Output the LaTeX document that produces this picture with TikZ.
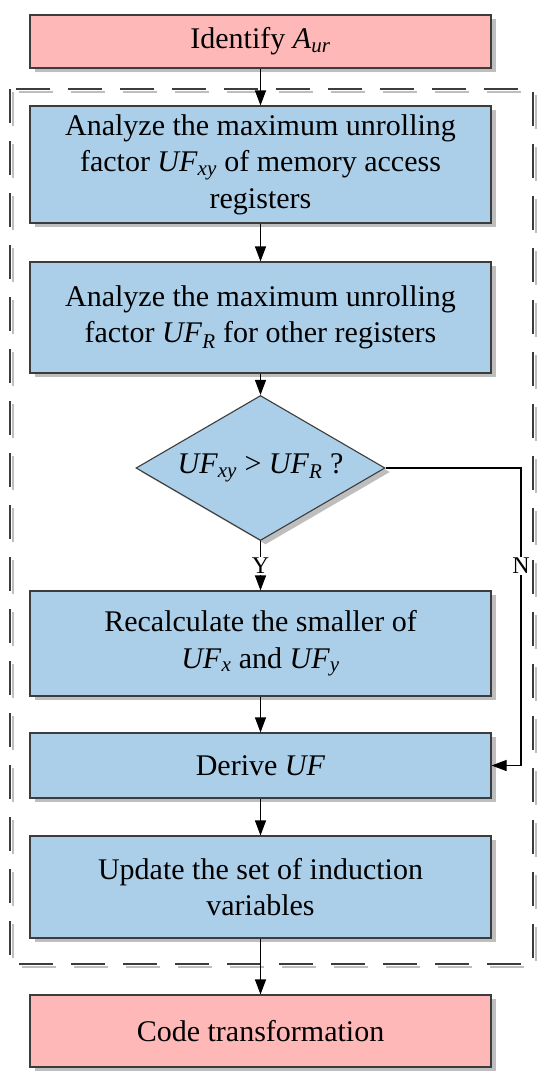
\documentclass[tikz,border=0pt]{standalone}
\usepackage{fontspec}
\setmainfont{Liberation Serif}
\usetikzlibrary{shapes.geometric,arrows.meta,shadows}
\definecolor{pinkfill}{RGB}{255,184,184}
\definecolor{bluefill}{RGB}{172,207,233}
\definecolor{edgegray}{RGB}{60,60,60}
\definecolor{shadowgray}{RGB}{190,190,190}
\newcommand\ufsub[1]{\textit{UF}\textsubscript{\textit{#1}}}
\begin{document}
\begin{tikzpicture}[x=1pt,y=-1pt,
  boxbase/.style={rectangle, draw=edgegray, line width=1.1pt, minimum width=461pt,
    inner sep=0pt, align=center, font=\fontsize{30}{36.5}\selectfont,
    drop shadow={shadow xshift=5pt, shadow yshift=-4pt, fill=shadowgray, opacity=1}},
  pinkbox/.style={boxbase, fill=pinkfill},
  bluebox/.style={boxbase, fill=bluefill},
  decision/.style={diamond, draw=edgegray, line width=1.1pt, fill=bluefill, inner sep=0pt,
    minimum width=249pt, minimum height=145pt, shape aspect=1.72,
    font=\fontsize{30}{36.5}\selectfont,
    drop shadow={shadow xshift=5pt, shadow yshift=-4pt, fill=shadowgray, opacity=1}},
  arr/.style={-{Triangle[length=15pt,width=11pt]}, line width=1.1pt, draw=black},
  lbl/.style={fill=white, inner sep=1pt, font=\fontsize{24}{28}\selectfont},
  frame/.style={draw=edgegray, line width=1.8pt, dash pattern=on 34pt off 18pt},
  frameshadow/.style={draw=shadowgray, line width=1.8pt, dash pattern=on 34pt off 18pt}]
\fill[white] (0,0) rectangle (550,1082);
\useasboundingbox (0,0) rectangle (550,1082);

% dashed frame with shadow
\draw[frameshadow] (13,92) rectangle (536,967);
\draw[frame] (10,89) rectangle (533,964);

% nodes
\node[pinkbox, minimum height=53pt] (top) at (260.5,41.5) {Identify \textit{A}\textsubscript{\textit{ur}}};
\node[bluebox, minimum height=117pt] (b2) at (260.5,164.5) {Analyze the maximum unrolling\\factor \ufsub{xy} of memory access\\registers};
\node[bluebox, minimum height=111pt] (b3) at (260.5,317.5) {Analyze the maximum unrolling\\factor \ufsub{R} for other registers};
\node[decision] (dia) at (260.5,468) {\ufsub{xy} > \ufsub{R} ?};
\node[bluebox, minimum height=105pt] (b4) at (260.5,643.5) {Recalculate the smaller of\\\ufsub{x} and \ufsub{y}};
\node[bluebox, minimum height=65pt] (b5) at (260.5,765.5) {Derive \textit{UF}};
\node[bluebox, minimum height=102pt] (b6) at (260.5,887) {Update the set of induction\\variables};
\node[pinkbox, minimum height=72pt] (bot) at (260.5,1031) {Code transformation};

% connectors
\draw[arr] (top.south) -- (b2.north);
\draw[arr] (b2.south) -- (b3.north);
\draw[arr] (b3.south) -- (dia.north);
\draw[arr] (dia.south) -- (b4.north);
\draw[arr] (b4.south) -- (b5.north);
\draw[arr] (b5.south) -- (b6.north);
\draw[arr] (b6.south) -- (bot.north);
\coordinate (nturn) at (521,468);
\draw[arr] (dia.east) -- (nturn) |- (b5.east);

% labels
\node[lbl] (ylab) at (260.5,566) {Y};
\node[lbl] (nlab) at (521,566) {N};
\end{tikzpicture}
\end{document}
